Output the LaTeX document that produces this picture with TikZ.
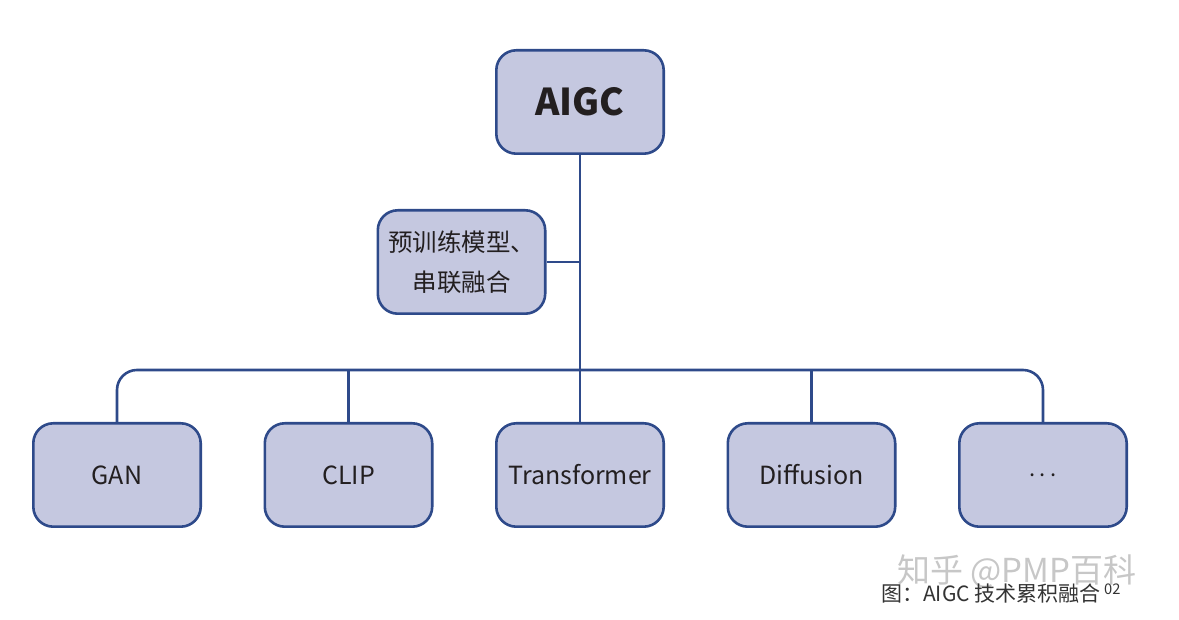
\documentclass[tikz,border=0pt]{standalone}
\usepackage{fontspec}
\setmainfont{Noto Sans CJK SC}
\usetikzlibrary{positioning,calc}
\definecolor{boxfill}{HTML}{C5C8E0}
\definecolor{boxline}{HTML}{2E4A8A}
\definecolor{inkdark}{HTML}{231F20}

\begin{document}
\begin{tikzpicture}[
  x=1pt, y=1pt,
  font=\fontsize{25}{32}\selectfont, text=inkdark,
  tech/.style={draw=boxline, fill=boxfill, line width=2.6pt,
               rounded corners=20pt, minimum width=167.4pt,
               minimum height=103.4pt, align=center, inner sep=2pt},
  link/.style={draw=boxline, line width=2.6pt},
  node distance=61.5pt,
]
\useasboundingbox (0,0) rectangle (1179,620);

% ---- root ----
\node[tech, font=\fontsize{37}{44}\selectfont\bfseries] (aigc) at (580,518) {AIGC};

% ---- pretraining note ----
\node[tech, font=\fontsize{24.5}{40}\selectfont] (pre) at (461.5,358) {预训练模型、\\串联融合};

% ---- leaf techniques ----
\node[tech] (gan) at (117,145) {GAN};
\node[tech, right=of gan] (clip) {CLIP};
\node[tech, right=of clip] (trans) {Transformer};
\node[tech, right=of trans] (diff) {Diffusion};
\node[tech, right=of diff] (etc) {\raisebox{-3pt}{\fontsize{22}{22}\selectfont.\kern4pt.\kern4pt.}};

% ---- connectors ----
\coordinate (bus) at (580,250);
\draw[link] (aigc.south) -- (trans.north);
\draw[link] (pre.east) -- (pre.east -| aigc.south);
\draw[link, rounded corners=20pt] (gan.north) |- (bus) -| (etc.north);
\draw[link] (clip.north) -- (clip.north |- bus);
\draw[link] (diff.north) -- (diff.north |- bus);

% ---- caption and watermark ----
\node[anchor=south west, inner sep=0pt, text=black!22, font=\fontsize{33}{33}\selectfont]
  (mark) at (897,32) {知乎 @PMP百科};
\node[anchor=base west, inner sep=0pt, text=black!80, font=\fontsize{21}{21}\selectfont]
  (cap) at (881,18) {图：AIGC 技术累积融合\,\textsuperscript{02}};
\end{tikzpicture}
\end{document}
